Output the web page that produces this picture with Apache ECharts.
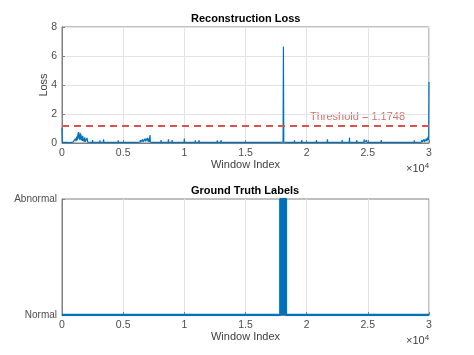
<!DOCTYPE html>
<html><head><meta charset="utf-8">
<script src="https://cdn.jsdelivr.net/npm/echarts@6/dist/echarts.min.js"></script>
<style>html,body{margin:0;padding:0;background:#fff}#c{width:474px;height:355px}</style>
</head><body><div id="c"></div>
<script>
// Reconstruction loss: [window index, loss]
const lossData = [
[0,1.05],[30,0.04],[400,0.05],[600,0.03],[900,0.06],[1000,0.15],[1050,0.08],[1100,0.3],[1150,0.12],[1200,0.45],
[1250,0.2],[1300,0.6],[1350,0.75],[1380,0.3],[1420,0.55],[1460,0.2],[1480,0.7],[1520,0.3],[1550,0.6],[1580,0.2],
[1620,0.45],[1660,0.15],[1700,0.5],[1740,0.12],[1780,0.3],[1820,0.1],[1860,0.4],[1900,0.08],[1950,0.2],[2000,0.06],
[2050,0.35],[2100,0.06],[2150,0.15],[2250,0.05],
[2480,0.04],[2500,0.2],[2520,0.04],[2780,0.04],[2800,0.12],[2820,0.04],[3080,0.04],[3100,0.18],[3120,0.04],
[3380,0.04],[3400,0.25],[3420,0.04],[3680,0.04],[3700,0.12],[3720,0.04],[3980,0.04],[4000,0.15],[4020,0.04],
[4280,0.04],[4300,0.1],[4320,0.04],[4580,0.04],[4600,0.18],[4620,0.04],[4880,0.04],[4900,0.12],[4920,0.04],
[5180,0.04],[5200,0.15],[5220,0.04],[5480,0.04],[5500,0.1],[5520,0.04],[5780,0.04],[5800,0.12],[5820,0.04],
[6080,0.04],[6100,0.15],[6120,0.04],[6380,0.05],[6400,0.2],[6420,0.06],[6580,0.06],[6600,0.25],[6620,0.08],
[6780,0.08],[6800,0.3],[6820,0.1],[6980,0.1],[7000,0.35],[7020,0.1],[7080,0.1],[7100,0.3],[7120,0.08],
[7180,0.08],[7200,0.55],[7220,0.05],[7480,0.04],[7500,0.15],[7520,0.04],[7780,0.04],[7800,0.12],[7820,0.04],
[8080,0.04],[8100,0.2],[8120,0.04],[8380,0.04],[8400,0.15],[8420,0.04],[8680,0.04],[8700,0.25],[8720,0.04],
[8980,0.04],[9000,0.2],[9020,0.04],[9280,0.04],[9300,0.15],[9320,0.04],[9580,0.04],[9600,0.12],[9620,0.04],
[9980,0.04],[10000,0.3],[10020,0.04],[10280,0.04],[10300,0.15],[10320,0.04],[10580,0.04],[10600,0.12],[10620,0.04],
[10880,0.04],[10900,0.18],[10920,0.04],[11180,0.04],[11200,0.2],[11220,0.04],[11480,0.04],[11500,0.15],[11520,0.04],
[11780,0.04],[11800,0.12],[11820,0.04],[12080,0.04],[12100,0.15],[12120,0.04],[12380,0.04],[12400,0.1],[12420,0.04],
[12680,0.04],[12700,0.18],[12720,0.04],[12980,0.04],[13000,0.2],[13020,0.04],[13280,0.04],[13300,0.12],[13320,0.04],
[13580,0.04],[13600,0.15],[13620,0.04],[13880,0.04],[13900,0.1],[13920,0.04],[14180,0.04],[14200,0.15],[14220,0.04],
[14480,0.04],[14500,0.12],[14520,0.04],[14780,0.04],[14800,0.1],[14820,0.04],[15080,0.04],[15100,0.15],[15120,0.04],
[15380,0.04],[15400,0.12],[15420,0.04],[15680,0.04],[15700,0.1],[15720,0.04],[15980,0.04],[16000,0.15],[16020,0.04],
[16280,0.04],[16300,0.12],[16320,0.04],[16580,0.04],[16600,0.1],[16620,0.04],[16880,0.04],[16900,0.15],[16920,0.04],
[17180,0.04],[17200,0.12],[17220,0.04],[17480,0.04],[17500,0.1],[17520,0.04],[17780,0.04],[17800,0.15],[17820,0.04],
[18070,0.05],[18100,6.65],[18130,0.05],[18380,0.04],[18400,0.15],[18420,0.04],[18680,0.04],[18700,0.12],[18720,0.04],
[18980,0.04],[19000,0.18],[19020,0.04],[19280,0.04],[19300,0.1],[19320,0.04],[19580,0.04],[19600,0.2],[19620,0.04],
[19880,0.04],[19900,0.12],[19920,0.04],[20180,0.04],[20200,0.15],[20220,0.04],[20480,0.04],[20500,0.1],[20520,0.04],
[20780,0.04],[20800,0.2],[20820,0.04],[21080,0.04],[21100,0.12],[21120,0.04],[21380,0.04],[21400,0.15],[21420,0.04],
[21680,0.04],[21700,0.25],[21720,0.04],[21980,0.04],[22000,0.12],[22020,0.04],[22280,0.04],[22300,0.15],[22320,0.04],
[22580,0.04],[22600,0.1],[22620,0.04],[22880,0.04],[22900,0.2],[22920,0.04],[23180,0.04],[23200,0.15],[23220,0.04],
[23480,0.04],[23500,0.38],[23520,0.04],[23780,0.04],[23800,0.12],[23820,0.04],[24080,0.04],[24100,0.2],[24120,0.04],
[24380,0.04],[24400,0.15],[24420,0.04],[24680,0.04],[24700,0.25],[24720,0.04],[24880,0.04],[24900,0.2],[24920,0.04],
[25180,0.04],[25200,0.12],[25220,0.04],[25480,0.04],[25500,0.15],[25520,0.04],[25780,0.04],[25800,0.1],[25820,0.04],
[26080,0.04],[26100,0.2],[26120,0.04],[26380,0.04],[26400,0.12],[26420,0.04],[26680,0.04],[26700,0.15],[26720,0.04],
[26980,0.04],[27000,0.1],[27020,0.04],[27280,0.04],[27300,0.15],[27320,0.04],[27580,0.04],[27600,0.12],[27620,0.04],
[27880,0.04],[27900,0.1],[27920,0.04],[28180,0.04],[28200,0.15],[28220,0.04],[28480,0.04],[28500,0.12],[28520,0.04],
[28780,0.04],[28800,0.18],[28820,0.04],[29080,0.04],[29100,0.15],[29120,0.04],[29380,0.05],[29400,0.2],[29420,0.06],
[29580,0.06],[29600,0.25],[29620,0.08],[29780,0.1],[29800,0.3],[29820,0.12],[29930,0.15],[29950,0.45],[29975,0.2],[30000,4.2]
];
const threshold = 1.1748;
// Ground truth labels: [window index, label (0 normal, 1 abnormal)]
const labelData = [[0,0],[17850,0],[17850,1],[18300,1],[18300,0],[30000,0]];
const xTickStep = 5000;
const lossTicks = [0,2,4,6,8];
const labelNames = ['Normal','Abnormal'];

const chart = echarts.init(document.getElementById('c'));
const FONT = 'Liberation Sans';
const axisCol = '#4d4d4d';
function xAxisCfg(gi){
  return {type:'value',gridIndex:gi,min:0,max:30000,interval:xTickStep,
    name:'Window Index',nameLocation:'middle',nameGap:16,nameMoveOverlap:false,
    nameTextStyle:{fontFamily:FONT,fontSize:11,color:'#404040',verticalAlign:'top'},
    axisLine:{show:true,onZero:false,lineStyle:{color:'#808080',width:1}},
    axisTick:{show:true,inside:true,length:3,lineStyle:{color:'#808080'}},
    axisLabel:{fontFamily:FONT,fontSize:10.5,color:axisCol,margin:5,formatter:v=>String(v/10000)},
    splitLine:{show:true,lineStyle:{color:'#e3e3e3',width:1}}};
}
chart.setOption({
  animation:false,
  title:[
    {text:'Reconstruction Loss',left:191,top:13,textStyle:{fontFamily:FONT,fontSize:11,fontWeight:'bold',color:'#000'},padding:0},
    {text:'Ground Truth Labels',left:191,top:185,textStyle:{fontFamily:FONT,fontSize:11,fontWeight:'bold',color:'#000'},padding:0}
  ],
  grid:[
    {left:62,width:367,top:27,height:116,show:true,borderColor:'#808080',borderWidth:1,backgroundColor:'#fff'},
    {left:62,width:367,top:199,height:116,show:true,borderColor:'#808080',borderWidth:1,backgroundColor:'#fff'}
  ],
  xAxis:[xAxisCfg(0),xAxisCfg(1)],
  yAxis:[
    {type:'value',gridIndex:0,min:0,max:8,interval:2,name:'Loss',nameLocation:'middle',nameGap:13,nameMoveOverlap:false,
     nameTextStyle:{fontFamily:FONT,fontSize:11,color:'#404040'},
     axisLine:{show:true,lineStyle:{color:'#808080'}},
     axisTick:{show:true,inside:true,length:3,lineStyle:{color:'#808080'}},
     axisLabel:{fontFamily:FONT,fontSize:10.5,color:axisCol,margin:5,formatter:v=>lossTicks.includes(v)?String(v):''},
     splitLine:{show:true,lineStyle:{color:'#e3e3e3'}}},
    {type:'value',gridIndex:1,min:0,max:1,interval:1,
     axisLine:{show:true,lineStyle:{color:'#808080'}},
     axisTick:{show:true,inside:true,length:3,lineStyle:{color:'#808080'}},
     axisLabel:{fontFamily:FONT,fontSize:10,color:axisCol,margin:5,formatter:v=>labelNames[v]||''},
     splitLine:{show:false}}
  ],
  series:[
    {type:'line',xAxisIndex:0,yAxisIndex:0,data:lossData,showSymbol:false,
     lineStyle:{color:'#0072BD',width:1.2},z:3},
    {type:'line',xAxisIndex:0,yAxisIndex:0,data:[[0,threshold],[30000,threshold]],showSymbol:false,
     lineStyle:{color:'#d9534f',width:2,type:[7,5]},z:4},
    {type:'line',xAxisIndex:1,yAxisIndex:1,data:labelData,showSymbol:false,
     lineStyle:{color:'#0072BD',width:2.5},areaStyle:{color:'#0072BD',opacity:1},z:3}
  ],
  graphic:[
    {type:'text',left:310,top:111,style:{text:'Threshold = 1.1748',fontFamily:FONT,fontSize:11,fill:'#d47070'}},
    {type:'text',left:406,top:162,style:{text:'×10{s|4}',rich:{s:{fontSize:8,verticalAlign:'top',padding:[0,0,6,0],fontFamily:FONT,fill:'#404040'}},fontFamily:FONT,fontSize:11,fill:'#404040'}},
    {type:'text',left:406,top:334,style:{text:'×10{s|4}',rich:{s:{fontSize:8,verticalAlign:'top',padding:[0,0,6,0],fontFamily:FONT,fill:'#404040'}},fontFamily:FONT,fontSize:11,fill:'#404040'}}
  ]
});
</script></body></html>
